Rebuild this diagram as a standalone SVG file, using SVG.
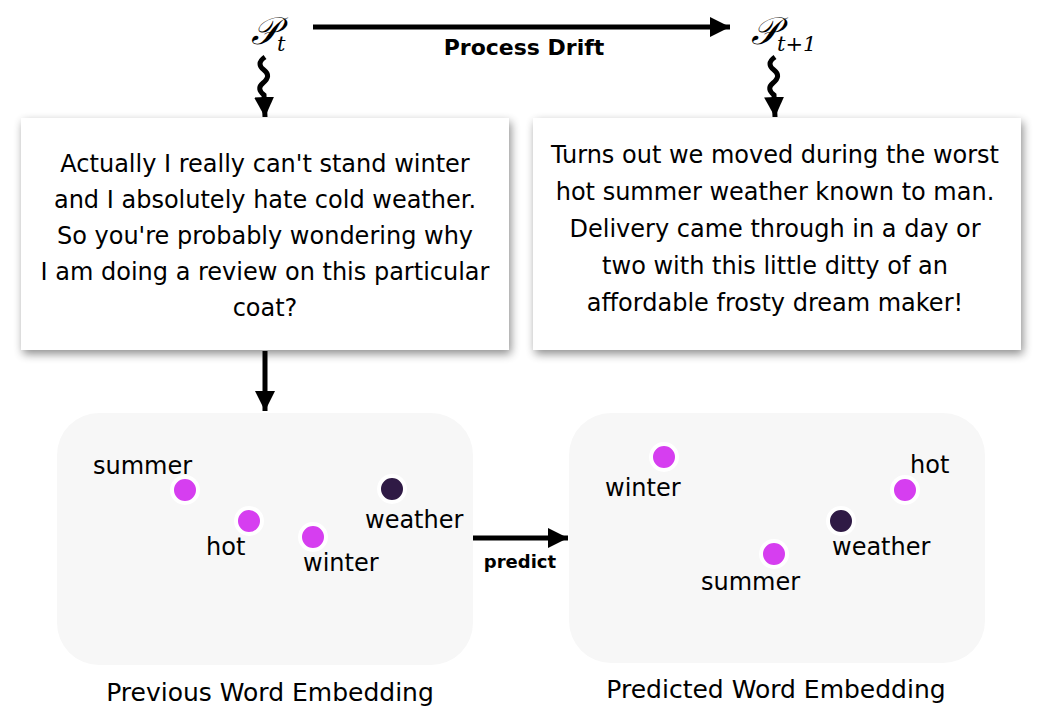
<svg xmlns="http://www.w3.org/2000/svg" width="1044" height="715" viewBox="0 0 1044 715">
<style>
.txt{font-family:"DejaVu Sans",Lato,sans-serif;fill:#000}
.box{font-size:24px;text-anchor:middle}
.lbl{font-size:24px}
.cap{font-size:25px;text-anchor:middle}
.bold{font-weight:bold;text-anchor:middle}
.math{font-family:"DejaVu Serif","Liberation Serif",serif;font-style:italic}
.card{fill:#fff;filter:url(#shadow)}
.panel{fill:#f7f7f7}
.dotp{fill:#d63ef0;stroke:#fff;stroke-width:4}
.dotd{fill:#2f1a45;stroke:#fff;stroke-width:4}
.line{stroke:#000;stroke-width:5;fill:none}
</style>
<defs>
<filter id="shadow" x="-10%" y="-10%" width="120%" height="130%">
<feGaussianBlur in="SourceAlpha" stdDeviation="5"/>
<feOffset dx="2" dy="4" result="b"/>
<feComponentTransfer><feFuncA type="linear" slope="0.45"/></feComponentTransfer>
<feMerge><feMergeNode/><feMergeNode in="SourceGraphic"/></feMerge>
</filter>
<marker id="ah" viewBox="0 0 10 10" refX="10" refY="5" markerWidth="4" markerHeight="4" markerUnits="strokeWidth" orient="auto">
<path d="M0,0 L10,5 L0,10 Z" fill="#000"/>
</marker>
</defs>
<rect width="1044" height="715" fill="#fff"/>

<g id="pt">
<text x="251" y="44" class="math" font-size="38">𝒫</text>
<text x="277" y="51" class="math" font-size="21">t</text>
</g>
<g id="pt1">
<text x="751" y="44" class="math" font-size="38">𝒫</text>
<text x="777" y="51" class="math" font-size="21">t+1</text>
</g>

<g id="box1">
<rect class="card" x="21" y="118" width="488" height="232"/>
<text class="txt box" x="265" y="172">Actually I really can't stand winter</text>
<text class="txt box" x="265" y="208">and I absolutely hate cold weather.</text>
<text class="txt box" x="265" y="244">So you're probably wondering why</text>
<text class="txt box" x="265" y="280">I am doing a review on this particular</text>
<text class="txt box" x="265" y="316">coat?</text>
</g>
<g id="box2">
<rect class="card" x="533" y="118" width="488" height="232"/>
<text class="txt box" x="775" y="163">Turns out we moved during the worst</text>
<text class="txt box" x="775" y="200">hot summer weather known to man.</text>
<text class="txt box" x="775" y="237">Delivery came through in a day or</text>
<text class="txt box" x="775" y="274">two with this little ditty of an</text>
<text class="txt box" x="775" y="311">affordable frosty dream maker!</text>
</g>

<g id="prev">
<rect class="panel" x="57" y="413" width="416" height="252" rx="42"/>
<circle class="dotp" cx="185" cy="490" r="13"/>
<circle class="dotp" cx="249" cy="521" r="13"/>
<circle class="dotp" cx="313" cy="537" r="13"/>
<circle class="dotd" cx="392" cy="489" r="13"/>
<text class="txt lbl" x="93" y="474">summer</text>
<text class="txt lbl" x="206" y="555">hot</text>
<text class="txt lbl" x="303" y="571">winter</text>
<text class="txt lbl" x="365" y="528">weather</text>
<text class="txt cap" x="270" y="701">Previous Word Embedding</text>
</g>
<g id="pred">
<rect class="panel" x="569" y="413" width="416" height="250" rx="42"/>
<circle class="dotp" cx="664" cy="457" r="13"/>
<circle class="dotp" cx="905" cy="490" r="13"/>
<circle class="dotd" cx="841" cy="521" r="13"/>
<circle class="dotp" cx="774" cy="554" r="13"/>
<text class="txt lbl" x="605" y="496">winter</text>
<text class="txt lbl" x="910" y="473">hot</text>
<text class="txt lbl" x="832" y="555">weather</text>
<text class="txt lbl" x="701" y="590">summer</text>
<text class="txt cap" x="776" y="698">Predicted Word Embedding</text>
</g>

<g id="connectors">
<line class="line" x1="313" y1="27" x2="730" y2="27" marker-end="url(#ah)"/>
<text class="txt bold" x="524" y="55" font-size="22">Process Drift</text>
<path class="line" d="M265,57 c-7,5 -6,9 -1,13 c5,4 5,8 -1,13 c-5,4 -4,8 1,12 L265,117" marker-end="url(#ah)"/>
<path class="line" d="M775,57 c-7,5 -6,9 -1,13 c5,4 5,8 -1,13 c-5,4 -4,8 1,12 L775,117" marker-end="url(#ah)"/>
<line class="line" x1="265" y1="351" x2="265" y2="411" marker-end="url(#ah)"/>
<line class="line" x1="473" y1="538" x2="568" y2="538" marker-end="url(#ah)"/>
<text class="txt bold" x="520" y="568" font-size="18">predict</text>
</g>
</svg>
